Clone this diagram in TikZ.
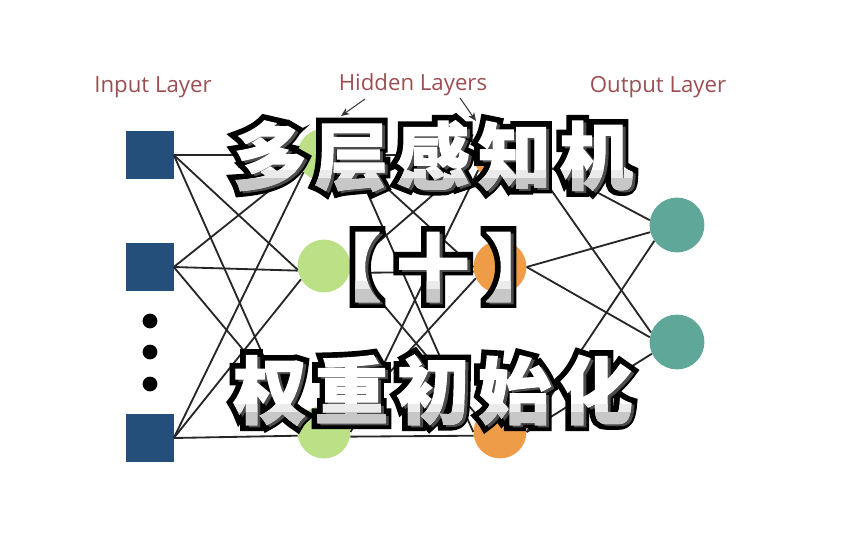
\documentclass[tikz,border=0pt]{standalone}
\usepackage{fontspec}
\usetikzlibrary{arrows.meta}
\setmainfont{Open Sans}
\newfontfamily\cjkplain{Noto Sans CJK SC}[BoldFeatures={FakeBold=1.5}]
\newfontfamily\cjkouter{Noto Sans CJK SC}[BoldFeatures={FakeBold=17}]
\definecolor{labelred}{HTML}{9C4F52}
\definecolor{squareblue}{HTML}{254F7B}
\definecolor{hiddengreen}{HTML}{BBE086}
\definecolor{hiddenorange}{HTML}{EE9C47}
\definecolor{outputteal}{HTML}{5FA899}
\tikzset{
  square/.style={rectangle,fill=squareblue,minimum size=1.175cm,inner sep=0pt},
  ball/.style={circle,minimum size=1.32cm,inner sep=0pt},
  dot/.style={circle,fill=black,minimum size=0.37cm,inner sep=0pt},
  link/.style={line width=1.3pt,black!85},
  layerlabel/.style={text=labelred,font=\fontsize{15.8}{18}\selectfont,inner sep=0pt},
  titletext/.style={inner sep=0pt,font=\fontsize{52}{60}\selectfont\bfseries},
}

\begin{document}
\begin{tikzpicture}[x=0.025cm,y=-0.025cm]
\useasboundingbox (0,0) rectangle (864,540);

% Layer labels
\node[layerlabel] (inlabel) at (153,87) {Input Layer};
\node[layerlabel] (hidlabel) at (413,85) {Hidden Layers};
\node[layerlabel] (outlabel) at (658,87) {Output Layer};

% Input squares
\node[square] (in1) at (150,155) {};
\node[square] (in2) at (150,267) {};
\node[square] (in3) at (150,438) {};
\node[dot] (dot1) at (150,321) {};
\node[dot] (dot2) at (150,352) {};
\node[dot] (dot3) at (150,384) {};

% Hidden layers
\node[ball,fill=hiddengreen] (gr1) at (324,155) {};
\node[ball,fill=hiddengreen] (gr2) at (324,266) {};
\node[ball,fill=hiddengreen] (gr3) at (324,432) {};
\node[ball,fill=hiddenorange] (or1) at (500,155) {};
\node[ball,fill=hiddenorange] (or2) at (500,267) {};
\node[ball,fill=hiddenorange] (or3) at (500,432) {};

% Output layer
\node[ball,fill=outputteal,minimum size=1.37cm] (out1) at (677,225) {};
\node[ball,fill=outputteal,minimum size=1.37cm] (out2) at (677,342) {};

% Connections
\foreach \from/\to in {in1.east/gr1.west,in1.east/gr2.188,in1.east/gr3.west,
  in2.east/gr1.205,in2.east/gr2.190,in2.east/gr3.150,
  in3.east/gr1.220,in3.east/gr2.210,in3.east/gr3.188,
  gr1.east/or1.west,gr1.east/or2.west,gr1.east/or3.west,
  gr2.east/or1.190,gr2.345/or2.190,gr2.east/or3.145,
  gr3.east/or1.215,gr3.30/or2.205,gr3.350/or3.188,
  or1.east/out1.170,or1.east/out2.160,
  or2.east/out1.195,or2.east/out2.170,
  or3.east/out1.215,or3.east/out2.205}
  \draw[link] (\from) -- (\to);

% Title, three layers for every line
\foreach \name/\ypos/\words in {one/156/多\kern6pt层\kern6pt感\kern6pt知\kern6pt机,two/267/【\kern11pt十\kern11pt】,three/390/权\kern6pt重\kern6pt初\kern6pt始\kern6pt化}{
  \node[titletext,text=black] (\name outer) at (433,\ypos) {\cjkouter \words};
  \node[titletext,text=black!70] (\name shade) at (436,\ypos+2) {\cjkplain \words};
  \node[titletext,text=white] (\name face) at (433,\ypos) {\cjkplain \words};
  \begin{scope}
    \clip (200,\ypos+14) rectangle (660,\ypos+22);
    \node[titletext,text=black!8] (\name fade) at (433,\ypos) {\cjkplain \words};
  \end{scope}
  \begin{scope}
    \clip (200,\ypos+22) rectangle (660,\ypos+50);
    \node[titletext,text=black!22] (\name band) at (433,\ypos) {\cjkplain \words};
  \end{scope}
}

% Arrows from the hidden label
\coordinate (hidfrom1) at (365,99);
\coordinate (hidto1) at (341,116);
\coordinate (hidfrom2) at (460,98);
\coordinate (hidto2) at (476,121);
\draw[-{Stealth[length=6pt,width=5pt]},black!80,line width=0.7pt] (hidfrom1) -- (hidto1);
\draw[-{Stealth[length=6pt,width=5pt]},black!80,line width=0.7pt] (hidfrom2) -- (hidto2);

\end{tikzpicture}
\end{document}
